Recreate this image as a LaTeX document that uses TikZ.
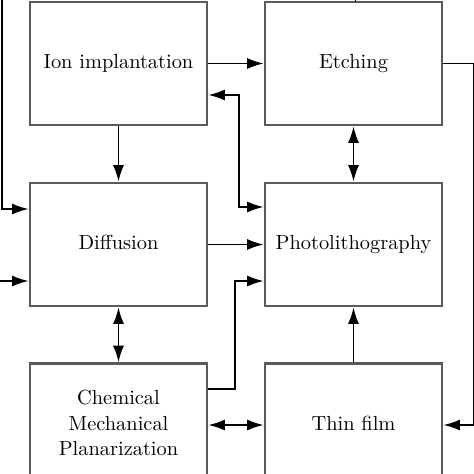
\documentclass[tikz,border=0pt]{standalone}
\usetikzlibrary{arrows.meta,calc}
\definecolor{boxgray}{HTML}{5A5A5A}
\newcommand{\bigtext}[1]{\scalebox{2.04}{\fontsize{10}{12.3}\selectfont\begin{tabular}{@{}c@{}}#1\end{tabular}}}
\begin{document}
\begin{tikzpicture}[x=1pt,y=-1pt,
  box/.style={draw=boxgray,line width=2.6pt,minimum width=177pt,minimum height=123pt,inner sep=0pt,align=center},
  conn/.style={line width=1.9pt,-{Latex[length=16.5pt,width=11pt]}},
  biconn/.style={line width=1.9pt,{Latex[length=16.5pt,width=11pt]}-{Latex[length=16.5pt,width=11pt]}},
  plain/.style={line width=1.9pt}]
\useasboundingbox (0,0) rectangle (474,474);
\clip (0,0) rectangle (474,474);
\node[box] (ion)   at (118.5,63.5) {\bigtext{Ion implantation}};
\node[box] (etch)  at (353.5,63.5) {\bigtext{Etching}};
\node[box] (diff)  at (118.5,244.5) {\bigtext{Diffusion}};
\node[box] (photo) at (353.5,244.5) {\bigtext{Photolithography}};
\node[box] (cmp)   at (118.5,425) {\bigtext{Chemical\\Mechanical\\Planarization}};
\node[box] (thin)  at (353.5,425) {\bigtext{Thin film}};
% connectors
\draw[conn] (ion.east) -- (etch.west);
\draw[biconn] ($(ion.east)+(0,31.5)$) -- ++(31,0) |- ($(photo.west)+(0,-37.5)$);
\draw[conn] (ion.south) -- (diff.north);
\coordinate (topL) at (2,-10);
\draw[conn] (topL) |- ($(diff.west)+(0,-35.5)$);
\coordinate (leftIn) at (-10,281);
\draw[conn] (leftIn) -- ($(diff.west)+(0,36.5)$);
\draw[conn] (diff.east) -- (photo.west);
\draw[conn] ($(cmp.east)+(0,-36)$) -- ++(27,0) |- ($(photo.west)+(0,36.5)$);
\draw[biconn] (diff.south) -- (cmp.north);
\draw[biconn] (etch.south) -- (photo.north);
\draw[conn] (thin.north) -- (photo.south);
\draw[biconn] (cmp.east) -- (thin.west);
\draw[conn] (etch.east) -- ++(31,0) |- (thin.east);
\coordinate (topE) at (355,-10);
\draw[line width=1pt] (topE) -- (355,2);
\end{tikzpicture}
\end{document}
